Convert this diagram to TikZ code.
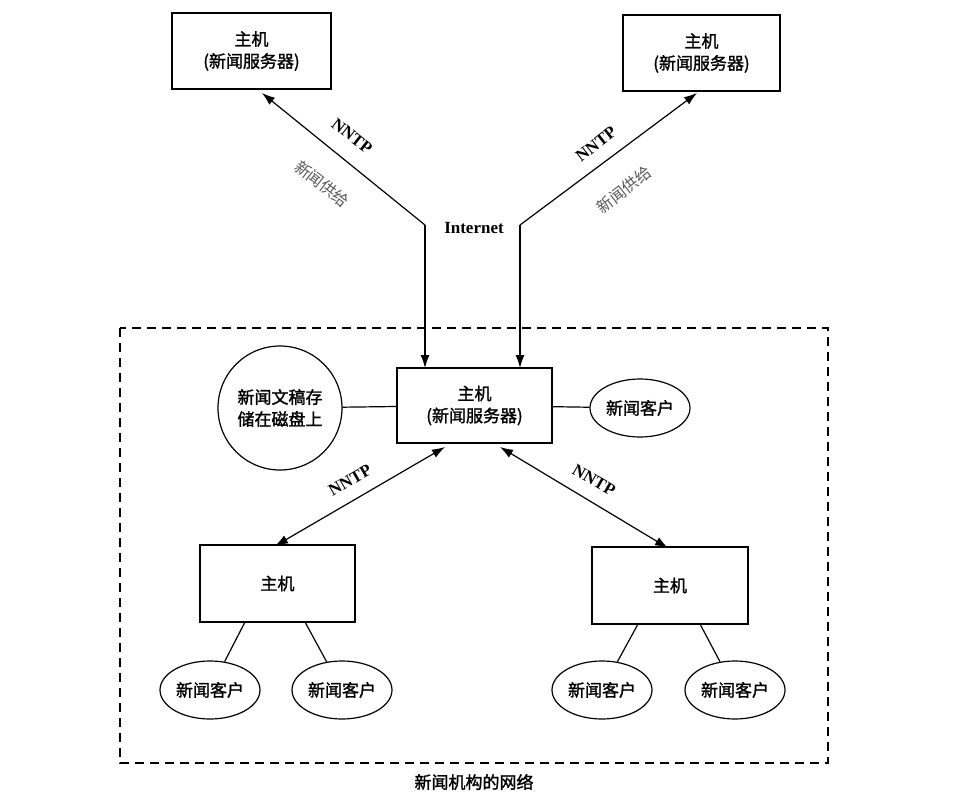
\documentclass[tikz,border=0pt]{standalone}
\usepackage{fontspec}
\setmainfont{Liberation Serif}
\newfontfamily\cjk{Noto Sans CJK SC}[AutoFakeBold=1.5]
\usetikzlibrary{shapes.geometric,arrows.meta}
\begin{document}
\begin{tikzpicture}[x=1pt,y=-1pt,line width=1.2pt,
  box/.style={draw,inner sep=0pt,font=\fontsize{17}{22}\selectfont\cjk\bfseries,align=center},
  ell/.style={draw,ellipse,minimum width=100pt,minimum height=58pt,inner sep=0pt,font=\fontsize{17}{20}\selectfont\cjk\bfseries},
  lbl/.style={font=\fontsize{17}{20}\selectfont\bfseries,inner sep=0pt},
  gl/.style={font=\fontsize{16}{20}\selectfont\cjk,text=black!65,inner sep=0pt},
  arr/.style={-{Latex[length=13pt,width=9pt]}},
  darr/.style={{Latex[length=13pt,width=9pt]}-{Latex[length=13pt,width=9pt]}}]
\useasboundingbox (0,0) rectangle (956,800);
\node[box,minimum width=159pt,minimum height=76pt] (tl) at (251.5,51) {主机\\(新闻服务器)};
\node[box,minimum width=157pt,minimum height=76pt] (tr) at (701.5,53) {主机\\(新闻服务器)};
\node[box,minimum width=155pt,minimum height=75pt] (c) at (474.5,405.5) {主机\\(新闻服务器)};
\node[box,minimum width=155pt,minimum height=77pt] (bl) at (277.5,583.5) {主机};
\node[box,minimum width=156pt,minimum height=77pt] (br) at (670,585.5) {主机};
\node[draw,circle,minimum size=124pt,inner sep=0pt,align=center,font=\fontsize{17}{22}\selectfont\cjk\bfseries] (disk) at (280,408) {新闻文稿存\\储在磁盘上};
\node[ell] (cc) at (640,408) {新闻客户};
\node[ell] (e1) at (210,690) {新闻客户};
\node[ell] (e2) at (342,690) {新闻客户};
\node[ell] (e3) at (602,690) {新闻客户};
\node[ell] (e4) at (735,690) {新闻客户};
\draw[dash pattern=on 9pt off 6pt] (120,328) rectangle (828,763);
\coordinate (j1) at (425,225);
\coordinate (j2) at (520,225);
\draw[arr] (j1) -- (425,368);
\draw[arr] (j1) -- (262,93);
\draw[arr] (j2) -- (520,368);
\draw[arr] (j2) -- (697,93);
\node[lbl] (inet) at (474,228) {Internet};
\node[lbl,rotate=-38] (n1) at (352,136) {NNTP};
\node[gl,rotate=-38] (g1) at (322,184) {新闻供给};
\node[lbl,rotate=38] (n2) at (596,144) {NNTP};
\node[gl,rotate=38] (g2) at (624,190) {新闻供给};
\draw (disk) -- (c);
\draw (c) -- (cc);
\draw[darr] (445,447) -- (275,546);
\draw[darr] (500,447) -- (668,548);
\node[lbl,rotate=30] (n3) at (350,480) {NNTP};
\node[lbl,rotate=-30] (n4) at (594,480) {NNTP};
\draw (245,622) -- (e1);
\draw (305,622) -- (e2);
\draw (638,624) -- (e3);
\draw (700,624) -- (e4);
\node[font=\fontsize{17}{20}\selectfont\cjk\bfseries] (cap) at (474,782) {新闻机构的网络};
\end{tikzpicture}
\end{document}
